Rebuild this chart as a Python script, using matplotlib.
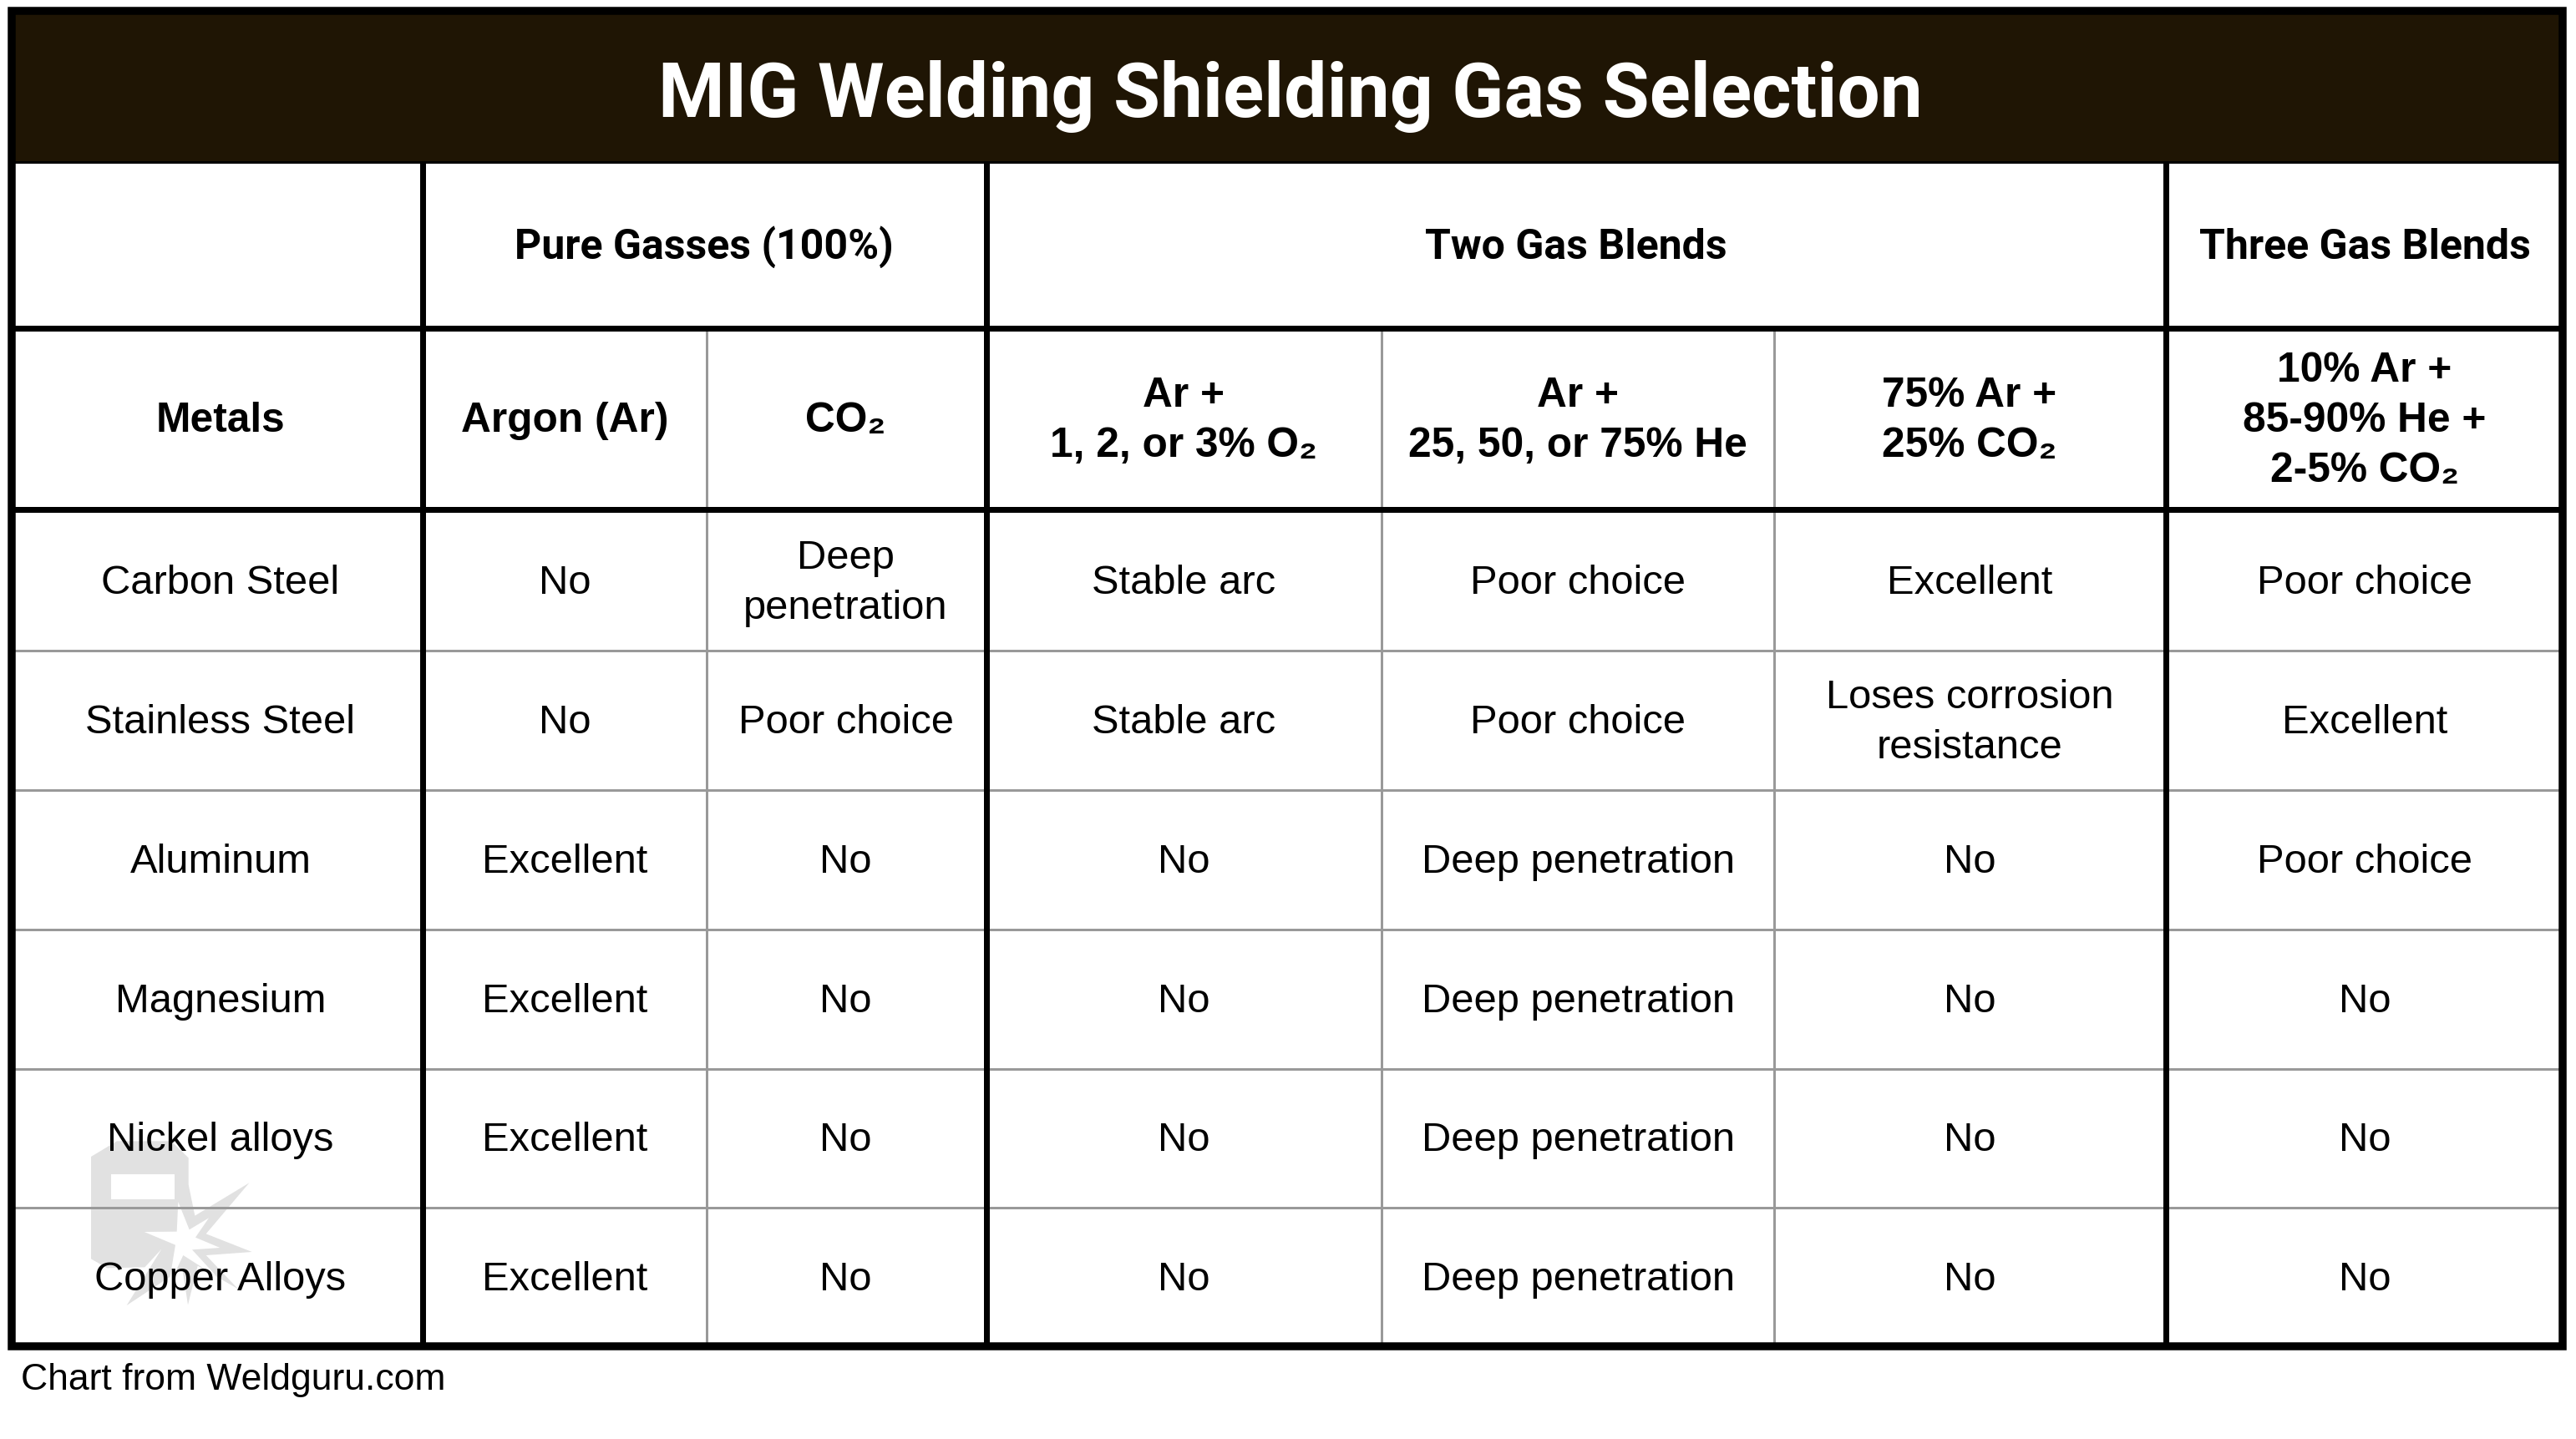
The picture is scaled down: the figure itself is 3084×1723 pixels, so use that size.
import matplotlib
matplotlib.use("Agg")
import matplotlib.pyplot as plt
from matplotlib.patches import Polygon, Rectangle

TITLE = "MIG Welding Shielding Gas Selection"
FOOTER = "Chart from Weldguru.com"
GROUPS = ["Pure Gasses (100%)", "Two Gas Blends", "Three Gas Blends"]
GROUP_SPANS = [(1, 3), (3, 6), (6, 7)]
HEADERS = [
    ["Metals"],
    ["Argon (Ar)"],
    ["CO\u2082"],
    ["Ar +", "1, 2, or 3% O\u2082"],
    ["Ar +", "25, 50, or 75% He"],
    ["75% Ar +", "25% CO\u2082"],
    ["10% Ar +", "85-90% He +", "2-5% CO\u2082"],
]
METALS = ["Carbon Steel", "Stainless Steel", "Aluminum", "Magnesium", "Nickel alloys", "Copper Alloys"]
ARGON = ["No", "No", "Excellent", "Excellent", "Excellent", "Excellent"]
CO2 = [["Deep", "penetration"], "Poor choice", "No", "No", "No", "No"]
AR_O2 = ["Stable arc", "Stable arc", "No", "No", "No", "No"]
AR_HE = ["Poor choice", "Poor choice", "Deep penetration", "Deep penetration", "Deep penetration", "Deep penetration"]
AR_CO2 = ["Excellent", ["Loses corrosion", "resistance"], "No", "No", "No", "No"]
THREE = ["Poor choice", "Excellent", "Poor choice", "No", "No", "No"]
COLUMNS = [METALS, ARGON, CO2, AR_O2, AR_HE, AR_CO2, THREE]

# layout, in reference pixels
W, H = 3084, 1724
XS = [13.5, 505.5, 845.5, 1180.5, 1654, 2123.5, 2593, 3068]
COL_CENTERS = [264, 676, 1012.5, 1417, 1889, 2358, 2831]
YS = [613, 779.5, 946.5, 1113.5, 1280.5, 1446.5, 1613]
HEAD_TOP, HEAD_MID, HEAD_BOT = 196, 393.5, 610.5
BODY = ["Liberation Sans", "DejaVu Sans"]
GROUP_FONT = ["Roboto", "DejaVu Sans"]
GREY = "#999999"
INK = "#000000"
BAR = "#1f1504"
LOGO = "#e1e1e1"
px = 72 / 100

fig = plt.figure(figsize=(W / 100, H / 100), dpi=100, facecolor="white")
ax = fig.add_axes([0, 0, 1, 1])
ax.set_xlim(0, W)
ax.set_ylim(H, 0)
ax.axis("off")


def logo_pts(pts):
    return [(90 + x / 3, 1360 + y / 3) for x, y in pts]


mask = [(57, 78), (150, 22), (345, 22), (407, 82), (407, 178), (430, 290), (365, 345), (310, 410),
        (250, 475), (115, 478), (57, 445)]
outer = [(372, 143), (430, 290), (625, 172), (470, 355), (635, 420), (470, 432), (585, 553), (440, 470),
         (405, 610), (385, 480), (185, 612), (310, 410), (248, 348), (365, 240)]
inner = [(370, 240), (410, 340), (480, 298), (432, 368), (520, 405), (420, 412), (510, 510), (388, 432),
         (335, 545), (360, 395), (248, 348), (365, 347)]
window = [(130, 140), (357, 140), (357, 230), (130, 230)]
ax.add_patch(Polygon(logo_pts(mask), fc=LOGO, ec="none", zorder=1))
ax.add_patch(Polygon(logo_pts(outer), fc=LOGO, ec="none", zorder=1))
ax.add_patch(Polygon(logo_pts(inner), fc="white", ec="none", zorder=1.1))
ax.add_patch(Polygon(logo_pts(window), fc="white", ec="none", zorder=1.1))

# title bar
ax.add_patch(Rectangle((XS[0], 14), XS[-1] - XS[0], 180.5, fc=BAR, ec="none", zorder=3))
ax.plot([XS[0], XS[-1]], [194.5, 194.5], color=INK, lw=3 * px, solid_capstyle="butt", zorder=4)

# thin inner rules
for y in YS[1:-1]:
    ax.plot([XS[0], XS[-1]], [y, y], color=GREY, lw=3 * px, solid_capstyle="butt", zorder=2)
for i in (2, 4, 5):
    ax.plot([XS[i], XS[i]], [HEAD_MID, YS[-1]], color=GREY, lw=3 * px, solid_capstyle="butt", zorder=2)

# heavy rules
for y in (HEAD_MID, HEAD_BOT):
    ax.plot([XS[0], XS[-1]], [y, y], color=INK, lw=7 * px, solid_capstyle="butt", zorder=4)
for i in (1, 3, 6):
    ax.plot([XS[i], XS[i]], [HEAD_TOP, YS[-1]], color=INK, lw=7 * px, solid_capstyle="butt", zorder=4)
ax.add_patch(Rectangle((XS[0], 14), XS[-1] - XS[0], YS[-1] - 14, fc="none", ec=INK, lw=9.5 * px, zorder=5))

ax.text((791 + 2306) / 2 - 4, 140, TITLE, color="white", fontsize=65.5, family=GROUP_FONT, weight="bold",
        ha="center", va="baseline", zorder=6)

for (a, b), label in zip(GROUP_SPANS, GROUPS):
    xc = (XS[a] + XS[b]) / 2 if b < 7 else COL_CENTERS[6]
    ax.text(xc, 309.5, label, fontsize=36, family=GROUP_FONT, weight="bold",
            ha="center", va="baseline", color=INK, zorder=6)


def lines_at(x, cy, lines, shift, **kw):
    n = len(lines)
    for k, line in enumerate(lines):
        y = cy + shift + (k - (n - 1) / 2) * 60
        ax.text(x, y, line, ha="center", va="baseline", color=INK, zorder=6, **kw)


for c, head in enumerate(HEADERS):
    xc = COL_CENTERS[c]
    lines_at(xc, (HEAD_MID + HEAD_BOT) / 2, head, 14.7, fontsize=35.7, family=BODY, weight="bold")
    for r, val in enumerate(COLUMNS[c]):
        yc = (YS[r] + YS[r + 1]) / 2
        lines_at(xc, yc, val if isinstance(val, list) else [val], 15, fontsize=35.2, family=BODY)

ax.text(25, 1664.5, FOOTER, fontsize=32, family=BODY, ha="left", va="baseline", color=INK, zorder=6)

fig.savefig("out.png", dpi=100, facecolor="white")
